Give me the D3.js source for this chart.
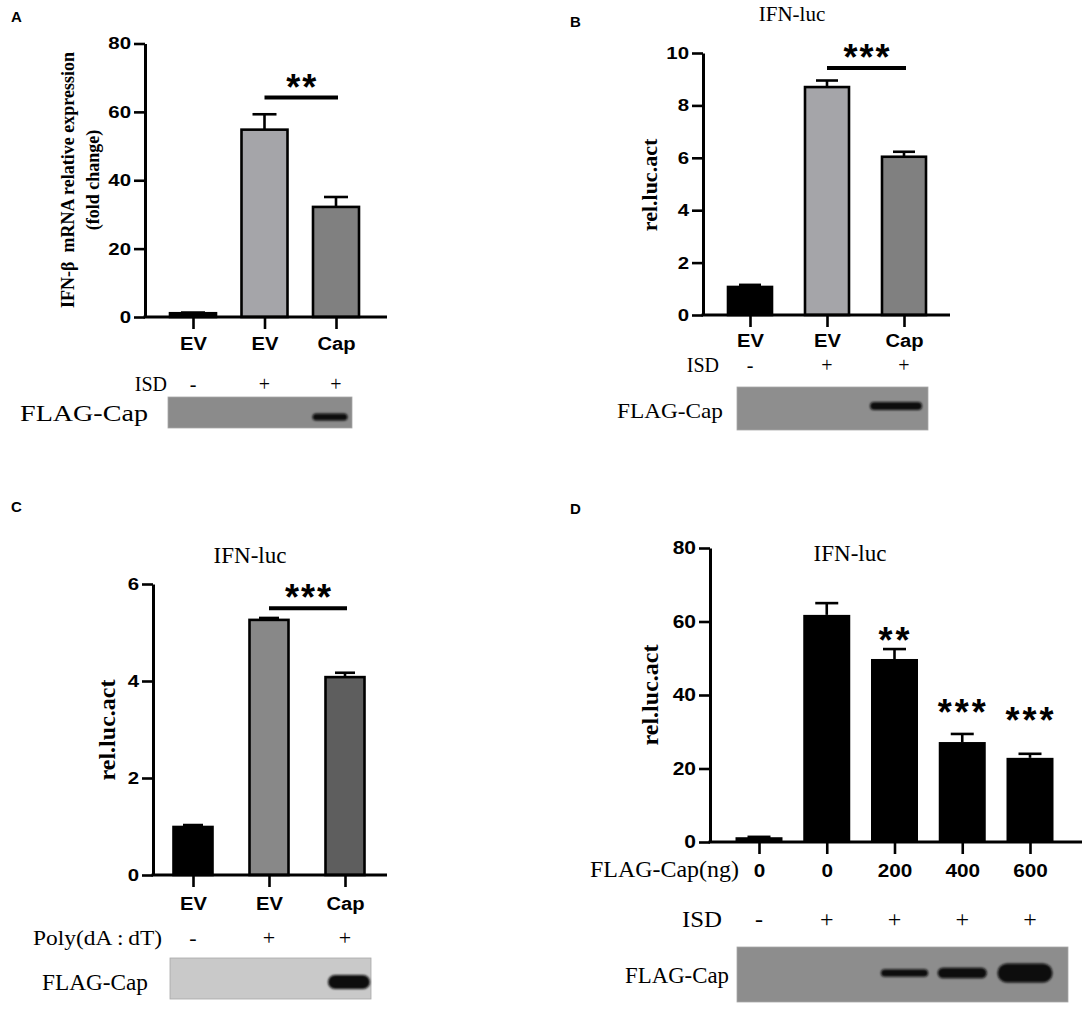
<!DOCTYPE html>
<html>
<head>
<meta charset="utf-8">
<script src="https://cdn.jsdelivr.net/npm/d3@7"></script>
<style>
body { margin: 0; background: #fff; }
svg { display: block; }
</style>
</head>
<body>
<svg id="fig" width="1084" height="1011"></svg>
<script>
var SANS = "Liberation Sans, Arial, sans-serif";
var SERIF = "Liberation Serif, Times New Roman, serif";

// panel A : IFN-b mRNA
var aLabels = ["EV", "EV", "Cap"];
var aValues = [1.1, 54.8, 32.2];
var aErrors = [0.2, 4.5, 2.9];
var aTicks = [0, 20, 40, 60, 80];
var aISD = ["-", "+", "+"];
var aBlot = [0, 0, 1];

// panel B : IFN-luc, ISD
var bLabels = ["EV", "EV", "Cap"];
var bValues = [1.07, 8.7, 6.04];
var bErrors = [0.08, 0.25, 0.19];
var bTicks = [0, 2, 4, 6, 8, 10];
var bISD = ["-", "+", "+"];
var bBlot = [0, 0, 1];

// panel C : IFN-luc, poly(dA:dT)
var cLabels = ["EV", "EV", "Cap"];
var cValues = [0.99, 5.26, 4.08];
var cErrors = [0.04, 0.04, 0.09];
var cTicks = [0, 2, 4, 6];
var cPoly = ["-", "+", "+"];
var cBlot = [0, 0, 1];

// panel D : dose of FLAG-Cap
var dLabels = ["0", "0", "200", "400", "600"];
var dValues = [1.3, 61.8, 49.8, 27.2, 22.9];
var dErrors = [0.1, 3.2, 2.7, 2.2, 1.1];
var dTicks = [0, 20, 40, 60, 80];
var dISD = ["-", "+", "+", "+", "+"];
var dStars = ["", "", "**", "***", "***"];
var dBlot = [0, 0, 0.4, 0.55, 1];

var svg = d3.select("#fig");

svg.append("defs").append("filter")
    .attr("id", "blur")
    .attr("x", "-30%").attr("y", "-80%")
    .attr("width", "160%").attr("height", "260%")
  .append("feGaussianBlur")
    .attr("stdDeviation", 1.3);

// the bold labels in the figure are a bit wider than the font
function stretch(sel, f) {
  sel.each(function () {
    var w = this.getComputedTextLength();
    d3.select(this).attr("textLength", w * f).attr("lengthAdjust", "spacingAndGlyphs");
  });
}

var panels = [
  {
    letter: "A", lx: 11, ly: 22,
    labels: aLabels, values: aValues, errors: aErrors, ticks: aTicks, yMax: 80,
    axisX: 145, axisEnd: 387, y0: 317, yTop: 43.5, first: 193, last: 336,
    barW: 46, capW: 24, outline: true, fills: ["#000", "#a5a5a9", "#808080"],
    tickFont: 17, labelFont: 18, labelPad: 8,
    ytitle: ["IFN-\u03b2\u00a0 mRNA relative expression", "(fold change)"], ytFont: 18, ytX: [74, 99], ytY: 180,
    sig: {at: 64.2, from: 1, to: 2, stars: "**"},
    row: {name: "ISD", signs: aISD, y: 391, end: 167, font: 20},
    blot: {x: 168, y: 397, w: 184, h: 31, fill: "#8b8b8b", lanes: aBlot, cy: 417,
           wMin: 35, wMax: 35, hMax: 7, shift: [0, 0, -6],
           label: {x: 20, y: 421, font: 23, len: 128}}
  },
  {
    letter: "B", lx: 570, ly: 27,
    labels: bLabels, values: bValues, errors: bErrors, ticks: bTicks, yMax: 10,
    axisX: 703, axisEnd: 950, y0: 315, yTop: 53, first: 750, last: 904,
    barW: 44, capW: 22, outline: true, fills: ["#000", "#a5a5a9", "#808080"],
    tickFont: 17, labelFont: 18, labelPad: 7,
    ytitle: ["rel.luc.act"], ytFont: 22, ytX: [657], ytY: 185,
    title: {text: "IFN-luc", x: 792, y: 21, font: 21},
    sig: {at: 9.43, from: 1, to: 2, stars: "***"},
    row: {name: "ISD", signs: bISD, y: 372, end: 719, font: 20},
    blot: {x: 737, y: 387, w: 191, h: 43, fill: "#8e8e8e", lanes: bBlot, cy: 406,
           wMin: 52, wMax: 52, hMax: 8, shift: [0, 0, -8],
           label: {x: 617, y: 418, font: 22, len: 106}}
  },
  {
    letter: "C", lx: 11, ly: 512,
    labels: cLabels, values: cValues, errors: cErrors, ticks: cTicks, yMax: 6,
    axisX: 153, axisEnd: 387, y0: 875, yTop: 584, first: 193, last: 345,
    barW: 39, capW: 20, outline: true, fills: ["#000", "#888888", "#5e5e5e"],
    tickFont: 17, labelFont: 18, labelPad: 10,
    ytitle: ["rel.luc.act"], ytFont: 24, ytX: [115], ytY: 730,
    title: {text: "IFN-luc", x: 250, y: 563, font: 23},
    sig: {at: 5.5, from: 1, to: 2, stars: "***"},
    row: {name: "Poly(dA\u2009:\u2009dT)", signs: cPoly, y: 945, end: 162, font: 22, len: 129},
    blot: {x: 170, y: 958, w: 201, h: 41, fill: "#c9c9c9", lanes: cBlot, cy: 982,
           wMin: 42, wMax: 42, hMax: 14, shift: [0, 0, 4],
           label: {x: 42, y: 990, font: 23, len: 106}}
  },
  {
    letter: "D", lx: 570, ly: 514,
    labels: dLabels, values: dValues, errors: dErrors, ticks: dTicks, yMax: 80,
    axisX: 710, axisEnd: 1082, y0: 842, yTop: 548, first: 759, last: 1030,
    barW: 47, capW: 23, outline: false, fills: ["#000", "#000", "#000", "#000", "#000"],
    tickFont: 17.5, labelFont: 18.5, labelPad: 10,
    ytitle: ["rel.luc.act"], ytFont: 24, ytX: [658], ytY: 695,
    title: {text: "IFN-luc", x: 850, y: 561, font: 23},
    stars: dStars, starAt: [0, 0, 56.9, 37.3, 35.1],
    xname: {text: "FLAG-Cap(ng)", end: 739, y: 877, font: 24, len: 149},
    row: {name: "ISD", signs: dISD, y: 927, end: 722, font: 24, len: 40},
    blot: {x: 737, y: 947, w: 331, h: 55, fill: "#8d8d8d", lanes: dBlot, cy: 973,
           wMin: 42, wMax: 55, hMax: 19, shift: [0, 0, 10, 0, -5],
           label: {x: 625, y: 983, font: 23, len: 104}}
  }
];

function drawPanel(p) {
  var g = svg.append("g").attr("class", "panel" + p.letter);

  var y = d3.scaleLinear().domain([0, p.yMax]).range([p.y0, p.yTop]);
  var x = d3.scalePoint().domain(d3.range(p.labels.length)).range([p.first, p.last]);

  // panel letter
  g.append("text")
    .attr("x", p.lx).attr("y", p.ly)
    .attr("font-family", SANS).attr("font-weight", "bold").attr("font-size", 15)
    .text(p.letter);

  if (p.title) {
    g.append("text")
      .attr("x", p.title.x).attr("y", p.title.y)
      .attr("text-anchor", "middle")
      .attr("font-family", SERIF).attr("font-size", p.title.font)
      .text(p.title.text);
  }

  // bars
  g.selectAll(".bar")
    .data(p.values)
    .enter()
    .append("rect")
    .attr("class", "bar")
    .attr("x", function (d, i) { return x(i) - p.barW / 2; })
    .attr("y", function (d) { return y(d); })
    .attr("width", p.barW)
    .attr("height", function (d) { return p.y0 - y(d); })
    .attr("fill", function (d, i) { return p.fills[i]; })
    .attr("stroke", p.outline ? "#000" : "none")
    .attr("stroke-width", 2.6);

  // error bars
  var err = g.selectAll(".err")
    .data(p.values)
    .enter()
    .append("g")
    .attr("class", "err");
  err.append("line")
    .attr("x1", function (d, i) { return x(i); })
    .attr("x2", function (d, i) { return x(i); })
    .attr("y1", function (d) { return y(d); })
    .attr("y2", function (d, i) { return y(d + p.errors[i]); })
    .attr("stroke", "#000").attr("stroke-width", 2.6);
  err.append("line")
    .attr("x1", function (d, i) { return x(i) - p.capW / 2; })
    .attr("x2", function (d, i) { return x(i) + p.capW / 2; })
    .attr("y1", function (d, i) { return y(d + p.errors[i]); })
    .attr("y2", function (d, i) { return y(d + p.errors[i]); })
    .attr("stroke", "#000").attr("stroke-width", 2.6);

  // y axis
  var ya = g.append("g")
    .attr("transform", "translate(" + p.axisX + ",0)")
    .call(d3.axisLeft(y).tickValues(p.ticks).tickFormat(d3.format("d"))
      .tickSize(11).tickPadding(3).tickSizeOuter(0));
  ya.attr("font-family", SANS).attr("font-size", p.tickFont).attr("font-weight", "bold");
  ya.select(".domain").attr("stroke-width", 3);
  ya.selectAll(".tick line").attr("stroke-width", 2.6);
  stretch(ya.selectAll(".tick text"), 1.2);

  // x axis
  var xa = g.append("g")
    .attr("transform", "translate(0," + p.y0 + ")")
    .call(d3.axisBottom(x).tickSize(12).tickPadding(p.labelPad)
      .tickFormat(function (i) { return p.labels[i]; }));
  xa.attr("font-family", SANS).attr("font-size", p.labelFont).attr("font-weight", "bold");
  xa.select(".domain").remove();
  xa.selectAll(".tick line").attr("stroke-width", 2.6);
  stretch(xa.selectAll(".tick text"), 1.12);
  g.append("line")
    .attr("x1", p.axisX - 1.5).attr("x2", p.axisEnd)
    .attr("y1", p.y0).attr("y2", p.y0)
    .attr("stroke", "#000").attr("stroke-width", 3);

  // y title (rotated)
  p.ytitle.forEach(function (t, k) {
    g.append("text")
      .attr("transform", "translate(" + p.ytX[k] + "," + p.ytY + ") rotate(-90)")
      .attr("text-anchor", "middle")
      .attr("font-family", SERIF).attr("font-weight", "bold").attr("font-size", p.ytFont)
      .text(t);
  });

  // significance bar
  if (p.sig) {
    var sy = y(p.sig.at);
    g.append("line")
      .attr("x1", x(p.sig.from)).attr("x2", x(p.sig.to) + 2)
      .attr("y1", sy).attr("y2", sy)
      .attr("stroke", "#000").attr("stroke-width", 4);
    g.append("text")
      .attr("x", (x(p.sig.from) + x(p.sig.to)) / 2 + 2)
      .attr("y", sy + 2)
      .attr("text-anchor", "middle")
      .attr("font-family", SANS).attr("font-weight", "bold").attr("font-size", 36)
      .attr("letter-spacing", 2)
      .text(p.sig.stars);
  }

  // stars over single bars
  if (p.stars) {
    g.selectAll(".star")
      .data(p.stars)
      .enter()
      .append("text")
      .attr("class", "star")
      .attr("x", function (d, i) { return x(i) + 1; })
      .attr("y", function (d, i) { return y(p.starAt[i]) + 20; })
      .attr("text-anchor", "middle")
      .attr("font-family", SANS).attr("font-weight", "bold").attr("font-size", 36)
      .attr("letter-spacing", 3)
      .text(function (d) { return d; });
  }

  if (p.xname) {
    g.append("text")
      .attr("x", p.xname.end - p.xname.len).attr("y", p.xname.y)
      .attr("font-family", SERIF).attr("font-size", p.xname.font)
      .attr("textLength", p.xname.len).attr("lengthAdjust", "spacingAndGlyphs")
      .text(p.xname.text);
  }

  // treatment row
  var r = p.row;
  var rowName = g.append("text")
    .attr("x", r.end).attr("y", r.y)
    .attr("text-anchor", "end")
    .attr("font-family", SERIF).attr("font-size", r.font)
    .text(r.name);
  if (r.len) {
    rowName.attr("x", r.end - r.len).attr("text-anchor", "start")
      .attr("textLength", r.len).attr("lengthAdjust", "spacingAndGlyphs");
  }
  g.selectAll(".sign")
    .data(r.signs)
    .enter()
    .append("text")
    .attr("class", "sign")
    .attr("x", function (d, i) { return x(i); })
    .attr("y", r.y)
    .attr("text-anchor", "middle")
    .attr("font-family", SERIF).attr("font-size", r.font)
    .attr("fill", "#000")
    .text(function (d) { return d; });

  // western blot strip
  var b = p.blot;
  g.append("rect")
    .attr("x", b.x).attr("y", b.y).attr("width", b.w).attr("height", b.h)
    .attr("fill", b.fill)
    .attr("stroke", "#a8a8a8").attr("stroke-width", 0.8);
  g.selectAll(".band")
    .data(b.lanes.map(function (k, i) { return {k: k, i: i}; }).filter(function (d) { return d.k > 0; }))
    .enter()
    .append("rect")
    .attr("class", "band")
    .attr("x", function (d) {
      var w = b.wMin + (b.wMax - b.wMin) * d.k;
      return x(d.i) + b.shift[d.i] - w / 2;
    })
    .attr("y", function (d) { return b.cy - b.hMax * d.k / 2; })
    .attr("width", function (d) { return b.wMin + (b.wMax - b.wMin) * d.k; })
    .attr("height", function (d) { return b.hMax * d.k; })
    .attr("rx", function (d) { return b.hMax * d.k / 2; })
    .attr("fill", "#0d0d0d")
    .attr("filter", "url(#blur)");
  g.append("text")
    .attr("x", b.label.x).attr("y", b.label.y)
    .attr("font-family", SERIF).attr("font-size", b.label.font)
    .attr("textLength", b.label.len).attr("lengthAdjust", "spacingAndGlyphs")
    .text("FLAG-Cap");
}

panels.forEach(drawPanel);
</script>
</body>
</html>
